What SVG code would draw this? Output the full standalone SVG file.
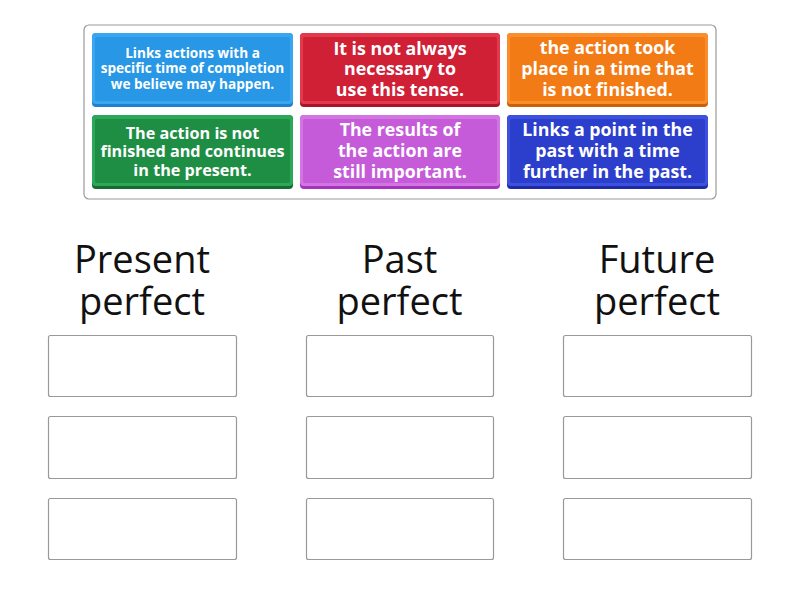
<svg xmlns="http://www.w3.org/2000/svg" width="800" height="600" viewBox="0 0 800 600">
<style>
.tt{font-family:"Open Sans","Noto Sans",sans-serif;font-weight:bold;fill:#fff;text-anchor:middle}
.s{font-size:13.6px}
.m{font-size:16.2px}
.l{font-size:17.8px}
.h{font-family:"Open Sans","Noto Sans",sans-serif;font-size:38px;fill:#111;text-anchor:middle}
.box{fill:#fff;stroke:#999;stroke-width:1.2}
</style>
<rect width="800" height="600" fill="#fff"/>
<rect x="84" y="25" width="632" height="174" rx="5" fill="#fff" stroke="#999" stroke-width="1.2"/>
<g id="tile1">
<rect x="92" y="33" width="201" height="74" rx="4" fill="#1e80cf"/>
<rect x="92" y="33" width="201" height="71" rx="4" fill="#3aa6f0"/>
<rect x="95" y="37" width="195" height="64" rx="2" fill="#2797e6"/>
<text class="tt s" x="192.5" y="57.5">Links actions with a</text>
<text class="tt s" x="192.5" y="73">specific time of completion</text>
<text class="tt s" x="192.5" y="88.5">we believe may happen.</text>
</g>
<g id="tile2">
<rect x="300" y="33" width="200" height="74" rx="4" fill="#a8152a"/>
<rect x="300" y="33" width="200" height="71" rx="4" fill="#e3394d"/>
<rect x="303" y="37" width="194" height="64" rx="2" fill="#cf2036"/>
<text class="tt l" x="400" y="54.5">It is not always</text>
<text class="tt l" x="400" y="75">necessary to</text>
<text class="tt l" x="400" y="95.5">use this tense.</text>
</g>
<g id="tile3">
<rect x="507" y="33" width="201" height="74" rx="4" fill="#cc600a"/>
<rect x="507" y="33" width="201" height="71" rx="4" fill="#fb8d2c"/>
<rect x="510" y="37" width="195" height="64" rx="2" fill="#f27b16"/>
<text class="tt l" x="607.5" y="54">the action took</text>
<text class="tt l" x="607.5" y="74.5">place in a time that</text>
<text class="tt l" x="607.5" y="95.5">is not finished.</text>
</g>
<g id="tile4">
<rect x="92" y="115" width="201" height="74" rx="4" fill="#146c33"/>
<rect x="92" y="115" width="201" height="71" rx="4" fill="#2ba858"/>
<rect x="95" y="119" width="195" height="64" rx="2" fill="#1f8e45"/>
<text class="tt m" x="192.5" y="138.5">The action is not</text>
<text class="tt m" x="192.5" y="157">finished and continues</text>
<text class="tt m" x="192.5" y="175.5">in the present.</text>
</g>
<g id="tile5">
<rect x="300" y="115" width="200" height="74" rx="4" fill="#a632c0"/>
<rect x="300" y="115" width="200" height="71" rx="4" fill="#d374e3"/>
<rect x="303" y="119" width="194" height="64" rx="2" fill="#c55bd9"/>
<text class="tt l" x="400" y="136">The results of</text>
<text class="tt l" x="400" y="156.8">the action are</text>
<text class="tt l" x="400" y="177.5">still important.</text>
</g>
<g id="tile6">
<rect x="507" y="115" width="201" height="74" rx="4" fill="#1d2ca6"/>
<rect x="507" y="115" width="201" height="71" rx="4" fill="#3c52de"/>
<rect x="510" y="119" width="195" height="64" rx="2" fill="#2b3ecc"/>
<text class="tt l" x="607.5" y="136">Links a point in the</text>
<text class="tt l" x="607.5" y="156.8">past with a time</text>
<text class="tt l" x="607.5" y="177.5">further in the past.</text>
</g>
<g id="col-present">
<text class="h" x="142" y="273">Present</text>
<text class="h" x="142" y="315">perfect</text>
<rect class="box" x="48.5" y="335.5" width="188" height="61" rx="2"/>
<rect class="box" x="48.5" y="416.5" width="188" height="62" rx="2"/>
<rect class="box" x="48.5" y="498.5" width="188" height="61" rx="2"/>
</g>
<g id="col-past">
<text class="h" x="399.5" y="273">Past</text>
<text class="h" x="399.5" y="315">perfect</text>
<rect class="box" x="306.5" y="335.5" width="187" height="61" rx="2"/>
<rect class="box" x="306.5" y="416.5" width="187" height="62" rx="2"/>
<rect class="box" x="306.5" y="498.5" width="187" height="61" rx="2"/>
</g>
<g id="col-future">
<text class="h" x="657" y="273">Future</text>
<text class="h" x="657" y="315">perfect</text>
<rect class="box" x="563.5" y="335.5" width="188" height="61" rx="2"/>
<rect class="box" x="563.5" y="416.5" width="188" height="62" rx="2"/>
<rect class="box" x="563.5" y="498.5" width="188" height="61" rx="2"/>
</g>
<g id="connectors"/>
</svg>
